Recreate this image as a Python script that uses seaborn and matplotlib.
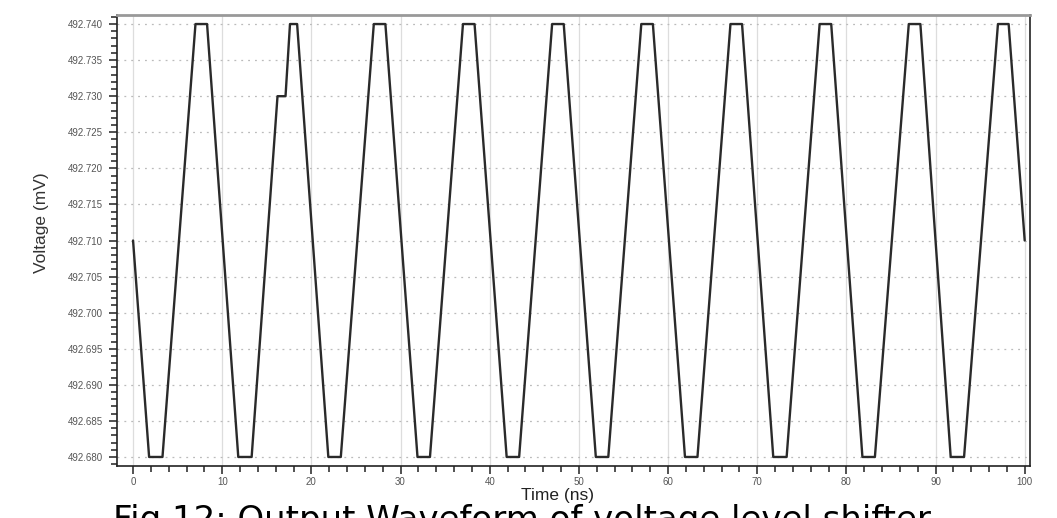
import matplotlib

matplotlib.use("Agg")
import matplotlib.pyplot as plt
import pandas as pd
import seaborn as sns
from matplotlib.ticker import FormatStrFormatter, MultipleLocator

# output waveform of the level shifter
time_ns = [0, 1.8, 3.3, 7.0, 8.3, 11.8, 13.3, 16.2, 17.1, 17.6, 18.4,
           21.9, 23.3, 27.0, 28.3, 31.9, 33.3, 37.0, 38.3, 41.9, 43.3,
           47.0, 48.3, 51.9, 53.3, 57.0, 58.3, 61.9, 63.3, 67.0, 68.3,
           71.8, 73.3, 77.0, 78.3, 81.8, 83.2, 87.0, 88.3, 91.7, 93.2,
           97.0, 98.2, 100.0]
voltage_mv = [492.710, 492.680, 492.680, 492.740, 492.740, 492.680, 492.680,
              492.730, 492.730, 492.740, 492.740,
              492.680, 492.680, 492.740, 492.740, 492.680, 492.680,
              492.740, 492.740, 492.680, 492.680,
              492.740, 492.740, 492.680, 492.680, 492.740, 492.740,
              492.680, 492.680, 492.740, 492.740,
              492.680, 492.680, 492.740, 492.740, 492.680, 492.680,
              492.740, 492.740, 492.680, 492.680,
              492.740, 492.740, 492.710]
caption = "Fig.12: Output Waveform of voltage level shifter"

sns.set_style("white")
plt.rcParams["font.family"] = ["Liberation Sans", "DejaVu Sans"]

df = pd.DataFrame({"time": time_ns, "voltage": voltage_mv})

fig = plt.figure(figsize=(10.57, 5.18), dpi=100)
ax = fig.add_axes([0.1107, 0.1004, 0.8638, 0.8706])
sns.lineplot(data=df, x="time", y="voltage", color="#2a2a2a", linewidth=1.7, ax=ax)

ax.set_xlim(-1.8, 100.6)
ax.set_ylim(492.67875, 492.74125)
ax.xaxis.set_major_locator(MultipleLocator(10))
ax.xaxis.set_minor_locator(MultipleLocator(2))
ax.yaxis.set_major_locator(MultipleLocator(0.005))
ax.yaxis.set_minor_locator(MultipleLocator(0.001))
ax.yaxis.set_major_formatter(FormatStrFormatter("%.3f"))
ax.tick_params(axis="both", which="major", labelsize=7, length=6, width=1.2,
               direction="out", colors="#333333", labelcolor="#555555", pad=4)
ax.tick_params(axis="x", which="major", pad=2)
ax.tick_params(axis="both", which="minor", length=4, width=1.2, direction="out",
               colors="#333333")
ax.tick_params(axis="x", which="both", bottom=True)
ax.tick_params(axis="y", which="both", left=True)

ax.grid(axis="x", which="major", color="#dddddd", linewidth=0.9, linestyle="-")
ax.grid(axis="y", which="major", color="#bbbbbb", linewidth=0.9, linestyle=(0, (1.5, 4)))

for side in ("left", "bottom", "right"):
    ax.spines[side].set_color("#222222")
    ax.spines[side].set_linewidth(1.2)
ax.spines["top"].set_color("#999999")
ax.spines["top"].set_linewidth(2)

ax.set_xlabel("Time (ns)", fontsize=12.5, color="#222222")
ax.xaxis.set_label_coords(0.482, -0.048)
ax.set_ylabel("Voltage (mV)", fontsize=12.5, color="#333333")
ax.yaxis.set_label_coords(-0.074, 0.54)

fig.text(113 / 1057, 1 - 504 / 518, caption, fontsize=24.5, va="top", ha="left",
         family=["DejaVu Sans"], color="black")

fig.savefig("out.png", dpi=100)
plt.close(fig)
